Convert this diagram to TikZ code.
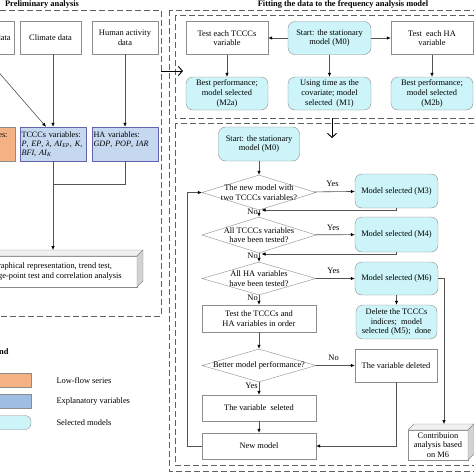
\documentclass[tikz,border=0pt]{standalone}
\usepackage{fontspec}
\setmainfont{Liberation Serif}
\usepackage{tikz}
\usetikzlibrary{positioning}
\usetikzlibrary{shapes.geometric,arrows.meta}

\definecolor{selfill}{RGB}{204,244,249}
\definecolor{varfill}{RGB}{197,216,240}
\definecolor{legblue}{RGB}{160,190,228}
\definecolor{lowfill}{RGB}{244,178,132}
\definecolor{edge}{RGB}{140,140,140}

\begin{document}
\begin{tikzpicture}[x=1pt,y=-1pt,
	every node/.style={font=\fontsize{8.4}{9.6}\selectfont},
	box/.style={draw=edge, fill=white, align=center, inner sep=1pt, minimum width=82pt, minimum height=33pt},
	selbox/.style={box, fill=selfill, rounded corners=7pt},
	varbox/.style={box, fill=varfill, draw=edge!70!blue, align=left, text width=63pt, inner sep=1.5pt, minimum width=66pt, minimum height=34pt, font=\fontsize{8.2}{9.2}\selectfont},
	dec/.style={diamond, draw=edge, fill=white, inner sep=0pt, minimum width=114pt, minimum height=34pt},
	keybox/.style={draw=edge, inner sep=0pt, minimum width=61pt, minimum height=14pt},
	panel/.style={draw=gray!75!black, dash pattern=on 6pt off 3pt, line width=0.9pt},
	line/.style={draw=gray!65!black, line width=0.6pt},
	arr/.style={line, -{Latex[length=4pt,width=3.5pt,black]}},
	bigarr/.style={line width=0.9pt, -{Straight Barb[length=4pt,width=9pt]}},
	bold/.style={font=\bfseries\fontsize{8.4}{9.6}\selectfont}
	]
		%\draw[thin, gray!25] (0,0) grid[step=20] (474,474);
		\useasboundingbox (0,0) rectangle (474,474);
		\clip (0,0) rectangle (474,474);
		% preliminary analysis
		\draw[panel] (-35,10) rectangle (161,316);
		\node[bold] (t1) at (42,4) {Preliminary analysis};
		\node[box, minimum width=62pt] (1) at (-17,37.5) {Streamflow data};
		\node[box, minimum width=61pt] (2) at (50.5,37.5) {Climate data};
		\node[box, minimum width=66pt] (3) at (125,37.5) {Human activity\\data};
		\node[varbox, fill=lowfill, draw=edge] (4) at (-17.5,144) {Low-flow series:\\ \textit{AM}\textsubscript{7}, \textit{AM}\textsubscript{15},\\ \mbox{}};
		\node[varbox] (5) at (53,144) {TCCCs variables:\\ \textit{P}, \textit{EP}, \textit{λ}, \textit{AI}\textsubscript{\textit{EP}}, \textit{K},\\ \textit{BFI}, \textit{AI}\textsubscript{\textit{K}}};
		\node[varbox] (6) at (125,144) {HA variables:\\ \textit{GDP}, \textit{POP}, \textit{IAR}\\ \mbox{}};
		\draw[arr] (1.south) -- ([xshift=-7pt]5.north);
		\draw[arr] (5.north |- 2.south) -- (5.north);
		\draw[arr] (3) -- (6);
		\coordinate (j1) at (53,184);
		\draw[line] (6) |- (j1);
		\node[box, minimum width=170pt, minimum height=31pt] (7) at (52,271.5) {Graphical representation, trend test,\\change-point test and correlation analysis};
		\draw[draw=edge, fill=gray!12] (-33,256) -- (-27,250) -- (143,250) -- (137,256) -- cycle;
		\draw[draw=edge, fill=gray!35] (137,256) -- (143,250) -- (143,281) -- (137,287) -- cycle;
		\coordinate (c7) at (53,250);
		\draw[arr] (5) -- (c7);
		% legend
		\node[bold, anchor=east] (l0) at (12,353) {Legend};
		\node[keybox, fill=lowfill] (l1) at (0.5,380.5) {};
		\node[keybox, fill=legblue] (l2) at (0.5,401) {};
		\node[keybox, fill=selfill, rounded corners=6pt] (l3) at (0.5,422.5) {};
		\node[anchor=west] (l4) at (53,380.5) {Low-flow series};
		\node[anchor=west] (l5) at (53,401) {Explanatory variables};
		\node[anchor=west] (l6) at (53,422.5) {Selected models};
		% fitting the data
		\draw[panel] (169,10) rectangle (484,471);
		\draw[panel] (175,15) rectangle (478,118);
		\draw[panel] (175,123) rectangle (478,465);
		\node[bold] (t2) at (343,4) {Fitting the data to the frequency analysis model};
		\coordinate (a1) at (161,71);
		\coordinate (a2) at (183,71);
		\draw[bigarr] (a1) -- (a2);
		\node[box] (11) at (227,38) {Test each TCCCs\\variable};
		\node[selbox, minimum width=83pt] (12) at (329.5,38) {Start: the stationary\\model (M0)};
		\node[box] (13) at (432,38) {Test~ each HA\\variable};
		\node[selbox] (14) at (227,93.5) {Best performance;\\model selected\\(M2a)};
		\node[selbox, minimum width=83pt] (15) at (329.5,93.5) {Using time as the\\covariate; model\\selected~ (M1)};
		\node[selbox] (16) at (432,93.5) {Best performance;\\model selected\\(M2b)};
		\draw[arr] (12) -- (11);
		\draw[arr] (12) -- (13);
		\draw[arr] (12) -- (15);
		\draw[arr] (11) -- (14);
		\draw[arr] (13) -- (16);
		\coordinate (a3) at (332,118);
		\coordinate (a4) at (332,138);
		\draw[bigarr] (a3) -- (a4);
		% model selection
		\node[selbox, minimum width=81pt, minimum height=34pt] (21) at (259,144) {Start: the stationary\\model (M0)};
		\node[dec, minimum height=35pt] (22) at (259,192.5) {};
		\node[align=center] at (22) {The new model with\\two TCCCs variables?};
		\node[dec, minimum height=36pt] (23) at (259,235) {};
		\node[align=center] at (23) {All TCCCs variables\\have been tested?};
		\node[dec, minimum height=33pt] (24) at (259,278.5) {};
		\node[align=center] at (24) {All HA variables\\have been tested?};
		\node[box, minimum width=114pt, minimum height=27pt] (25) at (259,318.5) {Test the TCCCs and\\HA variables in order};
		\node[dec, minimum height=33pt] (26) at (259,365.5) {};
		\node at (26) {Better model performance?};
		\node[box, minimum width=114pt, minimum height=26pt] (27) at (259,408) {The variable~ seleted};
		\node[box, minimum width=114pt, minimum height=26pt] (28) at (259,446) {New model};
		\node[selbox, minimum width=83pt, minimum height=34pt] (31) at (396.5,191) {Model selected (M3)};
		\node[selbox, minimum width=83pt, minimum height=35pt] (32) at (396.5,234.5) {Model selected (M4)};
		\node[selbox, minimum width=83pt, minimum height=33pt] (33) at (396.5,278.5) {Model selected (M6)};
		\node[selbox, minimum width=81pt, minimum height=34pt] (34) at (396.5,322) {Delete the TCCCs\\indices;~ model\\selected (M5);~ done};
		\node[box, minimum width=82pt, minimum height=33pt] (35) at (396,365.5) {The variable deleted};
		\node[box, minimum width=60pt, minimum height=30pt] (36) at (438,445) {Contribuion\\analysis based\\on M6};
		\draw[draw=edge, fill=gray!12] (408,430) -- (414,424) -- (474,424) -- (468,430) -- cycle;
		\draw[draw=edge, fill=gray!35] (468,430) -- (474,424) -- (474,454) -- (468,460) -- cycle;
		\draw[arr] (21) -- (22);
		\draw[arr] (22) -- node[left=1pt, pos=0.3, inner sep=0pt] {No} (23);
		\draw[arr] (23) -- node[left=1pt, pos=0.3, inner sep=0pt] {No} (24);
		\draw[arr] (24) -- node[left=1pt, pos=0.3, inner sep=0pt] {No} (25);
		\draw[arr] (25) -- (26);
		\draw[arr] (26) -- node[left=1pt, pos=0.3, inner sep=0pt] {Yes} (27);
		\draw[arr] (27) -- (28);
		\draw[arr] (22) -- node[above=1pt, pos=0.45] {Yes} (31);
		\draw[arr] (23) -- node[above=1pt, pos=0.45] {Yes} (32);
		\draw[arr] (24) -- node[above=1pt, pos=0.45] {Yes} (33);
		\draw[arr] (26) -- node[above=1pt, pos=0.45] {No} (35);
		\coordinate (j2) at (261.5,210);
		\coordinate (j3) at (261.5,254);
		\draw[arr] (31.south) |- (j2);
		\draw[arr] (32.south) |- (j3);
		\draw[arr] (33) -- (34);
		\coordinate (c36) at (444,424);
		\draw[arr] (33.east) -| (c36);
		\draw[arr] (35.south) |- (28.east);
		\coordinate (j5) at (187,446);
		\draw[arr] (28.west) -- (j5) |- (22.west);
\end{tikzpicture}
\end{document}
